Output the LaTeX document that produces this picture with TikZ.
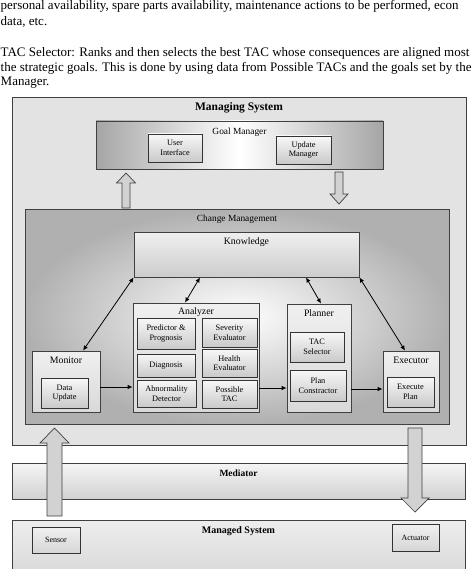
\documentclass[tikz,border=0pt]{standalone}
\usepackage{fontspec}
\setmainfont{Liberation Serif}
\usetikzlibrary{arrows.meta, positioning}
\definecolor{boxline}{HTML}{404040}
\definecolor{arrowfill}{HTML}{D2D2D2}

\newcommand{\vblockarrow}[6]{%
    \filldraw[bigarrow]
        ({#1-#4},#2) -- ({#1-#4},{#3+#6}) -- ({#1-#5},{#3+#6}) -- (#1,#3)
        -- ({#1+#5},{#3+#6}) -- ({#1+#4},{#3+#6}) -- ({#1+#4},#2) -- cycle;}

\begin{document}
\begin{tikzpicture}[
        x=1pt, y=-1pt,
        paratext/.style={anchor=base west, inner sep=0pt, font=\fontsize{13}{15}\selectfont},
        sysbox/.style={
            draw=boxline,
            line width=0.8pt,
            inner sep=0pt
        },
        groupbox/.style={
            draw=boxline,
            line width=0.8pt,
            inner sep=0pt,
            top color=gray!12,
            bottom color=gray!30
        },
        partbox/.style={
            draw=black!80,
            line width=0.9pt,
            inner sep=0pt,
            align=center,
            top color=gray!6,
            bottom color=gray!42,
            font=\fontsize{8.3}{9.6}\selectfont
        },
        title/.style={inner sep=0pt, font=\fontsize{9.4}{11}\selectfont},
        boldtitle/.style={inner sep=0pt, font=\fontsize{9.5}{11}\selectfont\bfseries},
        flow/.style={-{Latex[length=5pt,width=4.5pt]}, line width=0.9pt},
        exchange/.style={{Latex[length=5pt,width=4.5pt]}-{Latex[length=5pt,width=4.5pt]}, line width=0.8pt},
        bigarrow/.style={draw=boxline, fill=arrowfill, line width=0.7pt}
    ]
        \useasboundingbox (0,0) rectangle (474,569);

        \node[paratext] (para1) at (0.5,10) {personal availability, spare parts availability, maintenance actions to be performed, econ};
        \node[paratext] (para2) at (0.5,26) {data, etc.};
        \node[paratext] (para3) at (0.5,57) {TAC Selector: Ranks and then selects the best TAC whose consequences are aligned most};
        \node[paratext] (para4) at (0.5,72) {the strategic goals. This is done by using data from Possible TACs and the goals set by the};
        \node[paratext] (para5) at (0.5,86) {Manager.};

        \node[sysbox, fill=gray!22, minimum width=454pt, minimum height=348pt] (managing) at (239,271) {};
        \node[boldtitle, font=\fontsize{11.5}{13}\selectfont\bfseries, below=6pt of managing.north] (managingtitle) {Managing System};

        \node[sysbox, left color=gray!70, right color=gray!70, middle color=white,
            minimum width=287pt, minimum height=48pt] (goal) at (239.5,145) {};
        \node[title, below=7pt of goal.north] (goaltitle) {Goal Manager};
        \node[partbox, minimum width=54pt, minimum height=28pt] (userif) at (175,148) {User\\Interface};
        \node[partbox, minimum width=55pt, minimum height=28pt] (updmgr) at (303.5,150) {Update\\Manager};

        \node[sysbox, shading=radial, inner color=white, outer color=gray!62,
            minimum width=424pt, minimum height=215pt] (change) at (237,316.5) {};
        \node[title, below=6pt of change.north] (changetitle) {Change Management};

        \node[sysbox, top color=gray!12, bottom color=gray!40,
            minimum width=225pt, minimum height=45pt] (knowledge) at (246.5,254.5) {};
        \node[title, font=\fontsize{9.8}{11}\selectfont, below=6pt of knowledge.north] (knowtitle) {Knowledge};

        \node[groupbox, minimum width=126pt, minimum height=109pt] (analyzer) at (196,357.5) {};
        \node[title, font=\fontsize{9.8}{11}\selectfont, below=5pt of analyzer.north] (antitle) {Analyzer};
        \node[partbox, minimum width=58pt, minimum height=31pt] (predictor) at (166,333.5) {Predictor \&\\Prognosis};
        \node[partbox, minimum width=55pt, minimum height=29pt] (severity) at (229.5,332.5) {Severity\\Evaluator};
        \node[partbox, minimum width=58pt, minimum height=23pt] (diagnosis) at (166,365.5) {Diagnosis};
        \node[partbox, minimum width=55pt, minimum height=28pt] (health) at (229.5,363) {Health\\Evaluator};
        \node[partbox, minimum width=59pt, minimum height=27pt] (abnormal) at (166.5,393.5) {Abnormality\\Detector};
        \node[partbox, minimum width=55pt, minimum height=28pt] (possible) at (229.5,394) {Possible\\TAC};

        \node[groupbox, minimum width=64pt, minimum height=108pt] (planner) at (319,358) {};
        \node[title, font=\fontsize{9.8}{11}\selectfont, below=6pt of planner.north] (pltitle) {Planner};
        \node[partbox, minimum width=54pt, minimum height=30pt] (tacsel) at (317,347) {TAC\\Selector};
        \node[partbox, minimum width=56pt, minimum height=31pt] (planconst) at (318,385.5) {Plan\\Constractor};

        \node[groupbox, minimum width=68pt, minimum height=61pt] (monitor) at (66,381.5) {};
        \node[title, font=\fontsize{9.8}{11}\selectfont, below=6pt of monitor.north] (montitle) {Monitor};
        \node[partbox, minimum width=47pt, minimum height=30pt] (dataupd) at (64.5,393) {Data\\Update};

        \node[groupbox, minimum width=56pt, minimum height=61pt] (executor) at (411,381.5) {};
        \node[title, font=\fontsize{9.8}{11}\selectfont, below=6pt of executor.north] (extitle) {Executor};
        \node[partbox, minimum width=47pt, minimum height=30pt] (execplan) at (410.5,392) {Execute\\Plan};

        \draw[flow] ([yshift=-5.5pt]monitor.east) -- ([yshift=-5.5pt]monitor.east -| analyzer.west);
        \draw[flow] ([yshift=-30.5pt]analyzer.east) -- ([yshift=-30.5pt]analyzer.east -| planner.west);
        \draw[flow] ([yshift=-7.5pt]executor.west -| planner.east) -- ([yshift=-7.5pt]executor.west);

        \draw[exchange] (knowledge.south west) -- ([xshift=17pt]monitor.north);
        \draw[exchange] ([xshift=-46.5pt]knowledge.south) -- ([xshift=-11pt]analyzer.north);
        \draw[exchange] ([xshift=59.5pt]knowledge.south) -- ([xshift=2pt]planner.north);
        \draw[exchange] (knowledge.south east) -- ([xshift=-6pt]executor.north);

        \node[sysbox, top color=gray!8, bottom color=gray!36,
            minimum width=453pt, minimum height=36pt] (mediator) at (238.5,481) {};
        \node[boldtitle, below=7pt of mediator.north] (medtitle) {Mediator};

        \node[sysbox, top color=gray!14, bottom color=gray!30,
            minimum width=453pt, minimum height=56pt] (managed) at (238.5,548) {};
        \node[boldtitle, font=\fontsize{10}{12}\selectfont\bfseries, below=7pt of managed.north] (mgdtitle) {Managed System};
        \node[partbox, top color=gray!12, bottom color=gray!32, font=\fontsize{8}{9}\selectfont,
            minimum width=48pt, minimum height=26pt] (sensor) at (56,540) {Sensor};
        \node[partbox, top color=gray!12, bottom color=gray!32, font=\fontsize{8}{9}\selectfont,
            minimum width=47pt, minimum height=27pt] (actuator) at (415.5,537.5) {Actuator};

        \vblockarrow{126}{208}{173}{4}{9.5}{10}
        \vblockarrow{339}{172}{204}{4}{9}{-10}
        \vblockarrow{54.5}{516}{428}{7.5}{14.5}{15}
        \vblockarrow{415}{428}{512}{7}{14}{-14}
    \end{tikzpicture}
\end{document}
